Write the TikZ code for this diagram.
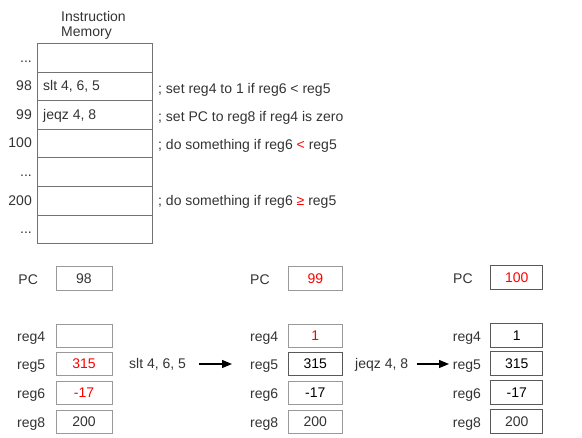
\documentclass[tikz,border=0pt]{standalone}
\usepackage{fontspec}
\setmainfont{Liberation Sans}
\usetikzlibrary{arrows.meta}
\definecolor{tx}{HTML}{333333}
\definecolor{rd}{HTML}{FF0000}
\begin{document}
\begin{tikzpicture}[x=1pt,y=-1pt,
  every node/.style={font=\fontsize{14}{16}\selectfont, text=tx, inner sep=0pt},
  cell/.style={draw=black!55, line width=0.8pt, minimum width=115pt, minimum height=28.6pt, anchor=north west},
  lab/.style={anchor=base west},
  addr/.style={anchor=base east},
  regbox/.style={draw=black!40, line width=0.8pt, minimum height=23.5pt},
  regdark/.style={draw=black!65, line width=0.8pt, minimum height=23.5pt},
  red/.style={text=rd},
  arr/.style={line width=1.2pt, draw=black, -{Triangle[length=10pt,width=8pt]}}]
\useasboundingbox (0,0) rectangle (582,438);

% Instruction memory
\node[lab] (t1) at (61,21.5) {Instruction};
\node[lab] (t2) at (61,37) {Memory};
\node[cell] (m1) at (37,43) {};
\node[cell] (m2) at (37,71.6) {};
\node[cell] (m3) at (37,100.2) {};
\node[cell] (m4) at (37,128.8) {};
\node[cell] (m5) at (37,157.4) {};
\node[cell] (m6) at (37,186) {};
\node[cell] (m7) at (37,214.6) {};

\node[addr] (a1) at (32,62.3) {...};
\node[addr] (a2) at (32,90.7) {98};
\node[addr] (a3) at (32,119.3) {99};
\node[addr] (a4) at (32,147.9) {100};
\node[addr] (a5) at (32,176.7) {...};
\node[addr] (a6) at (32,205.1) {200};
\node[addr] (a7) at (32,233.9) {...};

\node[lab] (i2) at (43,90.7) {slt 4, 6, 5};
\node[lab] (i3) at (43,119.3) {jeqz 4, 8};

\node[lab] (c2) at (158,93.3) {; set reg4 to 1 if reg6 < reg5};
\node[lab] (c3) at (158,121.7) {; set PC to reg8 if reg4 is zero};
\node[lab] (c4) at (158,149.5) {; do something if reg6 \textcolor{rd}{<} reg5};
\node[lab] (c6) at (158,205.2) {; do something if reg6 \textcolor{rd}{≥} reg5};

% State 1
\node[lab] (pcl1) at (18.3,284.3) {PC};
\node[regbox, minimum width=56pt] (pc1) at (84,278.3) {98};
\node[lab] (l41) at (17,341.5) {reg4};
\node[lab] (l51) at (17,369.3) {reg5};
\node[lab] (l61) at (17,398.5) {reg6};
\node[lab] (l81) at (17,427.2) {reg8};
\node[regbox, minimum width=56pt] (r41) at (84,335.7) {};
\node[regbox, minimum width=56pt, red] (r51) at (84,363.7) {315};
\node[regbox, minimum width=56pt, red] (r61) at (84,393) {-17};
\node[regbox, minimum width=56pt] (r81) at (84,421.7) {200};

\node[lab] (op1) at (129,368.5) {slt 4, 6, 5};
\coordinate (s1) at (199,364);
\coordinate (e1) at (232,364);
\draw[arr] (s1) -- (e1);

% State 2
\node[lab] (pcl2) at (250,284.3) {PC};
\node[regbox, minimum width=54pt, red] (pc2) at (315.3,278.3) {99};
\node[lab] (l42) at (250,341.5) {reg4};
\node[lab] (l52) at (250,369.3) {reg5};
\node[lab] (l62) at (250,398.5) {reg6};
\node[lab] (l82) at (250,427.2) {reg8};
\node[regbox, minimum width=54pt, red] (r42) at (315.3,335.7) {1};
\node[regdark, minimum width=54pt, text=black] (r52) at (315.3,363.7) {315};
\node[regbox, minimum width=54pt, text=black] (r62) at (315.3,393) {-17};
\node[regbox, minimum width=54pt] (r82) at (315.3,421.7) {200};

\node[lab] (op2) at (355,368.5) {jeqz 4, 8};
\coordinate (s2) at (416.5,364);
\coordinate (e2) at (449,364);
\draw[arr] (s2) -- (e2);

% State 3
\node[lab] (pcl3) at (453,283.5) {PC};
\node[regdark, minimum width=52pt, red] (pc3) at (516.8,277.5) {100};
\node[lab] (l43) at (452.7,341.5) {reg4};
\node[lab] (l53) at (452.7,369.3) {reg5};
\node[lab] (l63) at (452.7,398.5) {reg6};
\node[lab] (l83) at (452.7,427.2) {reg8};
\node[regdark, minimum width=52pt, text=black] (r43) at (516.8,335.2) {1};
\node[regdark, minimum width=52pt, text=black] (r53) at (516.8,363.4) {315};
\node[regdark, minimum width=52pt, text=black] (r63) at (516.8,392.5) {-17};
\node[regdark, minimum width=52pt] (r83) at (516.8,421.3) {200};
\end{tikzpicture}
\end{document}
